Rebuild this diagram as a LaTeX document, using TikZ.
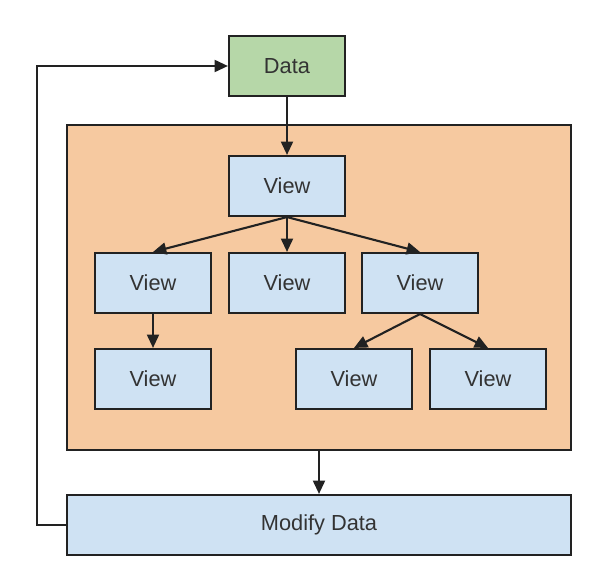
\documentclass[tikz,border=0pt]{standalone}
\usepackage{fontspec}
\setmainfont{Liberation Sans}
\usetikzlibrary{arrows.meta}
\definecolor{vfill}{HTML}{CFE2F3}
\definecolor{gfill}{HTML}{B6D7A8}
\definecolor{ofill}{HTML}{F6C9A0}
\definecolor{edge}{HTML}{222222}
\begin{document}
\begin{tikzpicture}[x=0.05cm,y=-0.05cm,
  box/.style={draw=edge,line width=3pt,fill=vfill,minimum width=5.8cm,minimum height=3cm,inner sep=0pt,font=\fontsize{31}{36}\selectfont,text=black!80},
  arr/.style={draw=edge,line width=3pt,-{Triangle[length=19pt,width=17pt]}}]
\useasboundingbox (0,0) rectangle (608,588);
\node[box,fill=ofill,minimum width=25.2cm,minimum height=16.25cm] (cont) at (319,287.5) {};
\node[box,fill=gfill] (data) at (287,66) {Data};
\node[box] (v0) at (287,186) {View};
\node[box] (v1) at (153,283) {View};
\node[box] (v2) at (287,283) {View};
\node[box] (v3) at (420,283) {View};
\node[box] (v4) at (153,379) {View};
\node[box] (v5) at (354,379) {View};
\node[box] (v6) at (488,379) {View};
\node[box,minimum width=25.2cm] (mod) at (319,525) {Modify Data};
\draw[arr] (data) -- (v0);
\draw[arr] (v0.south) -- (v1.north);
\draw[arr] (v0.south) -- (v2.north);
\draw[arr] (v0.south) -- (v3.north);
\draw[arr] (v1) -- (v4);
\draw[arr] (v3.south) -- (v5.north);
\draw[arr] (v3.south) -- (v6.north);
\draw[arr] (cont.south) -- (mod.north);
\coordinate (c1) at (37,525);
\coordinate (c2) at (37,66);
\draw[arr] (mod.west) -- (c1) -- (c2) -- (data.west);
\end{tikzpicture}
\end{document}
